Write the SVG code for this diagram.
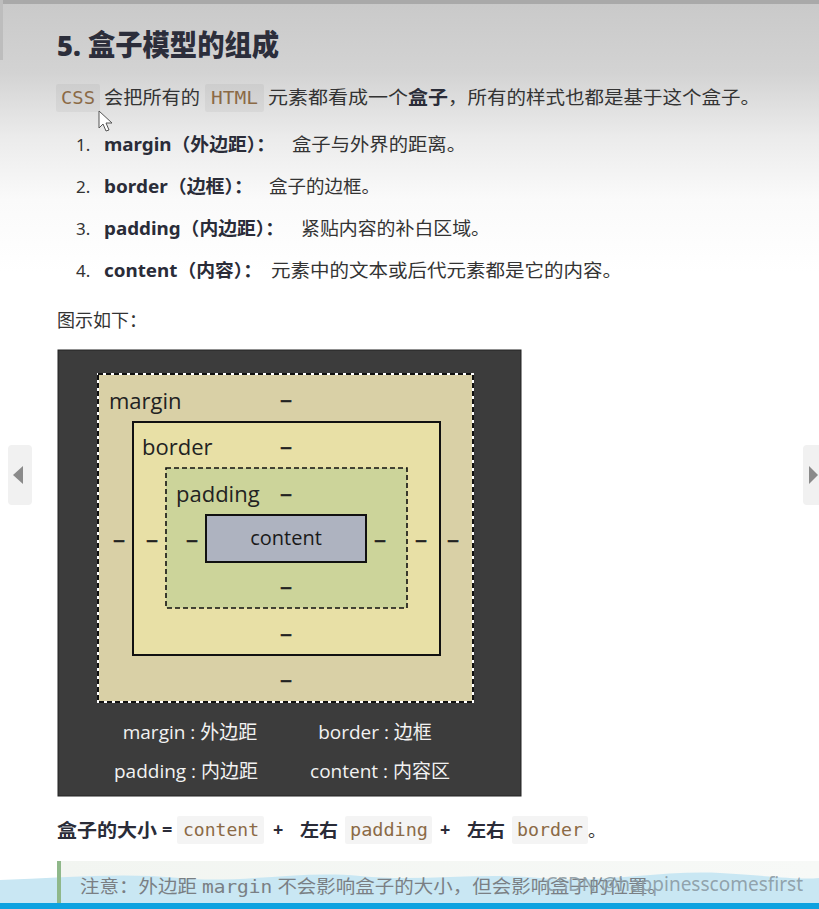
<svg xmlns="http://www.w3.org/2000/svg" width="819" height="909" viewBox="0 0 819 909">
<defs>
<linearGradient id="bg" x1="0" y1="0" x2="0" y2="1" gradientUnits="objectBoundingBox">
<stop offset="0" stop-color="#c9c9c9"/>
<stop offset="0.08" stop-color="#d3d3d3"/>
<stop offset="0.15" stop-color="#ebebeb"/>
<stop offset="0.22" stop-color="#fafafa"/>
<stop offset="0.3" stop-color="#ffffff"/>
<stop offset="1" stop-color="#ffffff"/>
</linearGradient>
<linearGradient id="note" x1="0" y1="0" x2="1" y2="0">
<stop offset="0" stop-color="#f2f5f1"/>
<stop offset="1" stop-color="#f7f9f7"/>
</linearGradient>
<style>
.t{font-family:"Noto Sans","Noto Sans CJK SC",sans-serif;fill:#333;font-size:18px}
.b{font-weight:bold;fill:#2a2c38}
.h{font-size:29px;font-weight:900;fill:#2c2e3b}
.n{font-size:17px}
.code{font-family:"DejaVu Sans Mono","Liberation Mono",monospace;font-size:17px;fill:#8b6a46}
.cbg{fill:#000;fill-opacity:0.045}
.lbl{font-family:"Open Sans","Noto Sans",sans-serif;font-size:22px;fill:#222}
.dash{font-family:"Open Sans","Noto Sans",sans-serif;font-size:24px;fill:#222;stroke:#222;stroke-width:0.5;text-anchor:middle}
.leg{font-family:"Open Sans","Noto Sans","Noto Sans CJK SC",sans-serif;font-size:19px;fill:#f2f2f2;text-anchor:middle}
.ctl{font-family:"Open Sans","Noto Sans",sans-serif;font-size:20px;fill:#1a1a1a;text-anchor:middle}
</style>
</defs>
<rect width="819" height="909" fill="url(#bg)"/>
<rect width="819" height="4" fill="#a9a9a9"/>
<rect width="3" height="60" fill="#bdbdbd"/>

<g id="title">
<text class="t b h" x="57" y="56" textLength="222" lengthAdjust="spacingAndGlyphs">5. 盒子模型的组成</text>
</g>

<g id="intro">
<rect class="cbg" x="56" y="84" width="44" height="28" rx="2"/>
<text class="code" x="61" y="104" textLength="34" lengthAdjust="spacingAndGlyphs">CSS</text>
<text class="t" x="104" y="104" textLength="96" lengthAdjust="spacingAndGlyphs">会把所有的</text>
<rect class="cbg" x="205" y="84" width="59" height="28" rx="2"/>
<text class="code" x="211" y="104" textLength="47" lengthAdjust="spacingAndGlyphs">HTML</text>
<text class="t" x="268" y="104" textLength="140" lengthAdjust="spacingAndGlyphs">元素都看成一个</text>
<text class="t b" x="408" y="104" textLength="40" lengthAdjust="spacingAndGlyphs">盒子</text>
<text class="t" x="448" y="104" textLength="312" lengthAdjust="spacingAndGlyphs">，所有的样式也都是基于这个盒子。</text>
</g>

<g id="cursor">
<polygon points="99,111 99,128 103,124 106,131 109,130 106,123 112,123" fill="#fff" stroke="#555" stroke-width="1"/>
</g>

<g id="list">
<text class="t n" x="76" y="151">1.</text>
<text class="t b" x="104" y="151" textLength="171" lengthAdjust="spacingAndGlyphs">margin（外边距）：</text>
<text class="t" x="292" y="151" textLength="174" lengthAdjust="spacingAndGlyphs">盒子与外界的距离。</text>
<text class="t n" x="76" y="193">2.</text>
<text class="t b" x="104" y="193" textLength="149" lengthAdjust="spacingAndGlyphs">border（边框）：</text>
<text class="t" x="269" y="193" textLength="111" lengthAdjust="spacingAndGlyphs">盒子的边框。</text>
<text class="t n" x="76" y="235">3.</text>
<text class="t b" x="104" y="235" textLength="180" lengthAdjust="spacingAndGlyphs">padding（内边距）：</text>
<text class="t" x="301" y="235" textLength="189" lengthAdjust="spacingAndGlyphs">紧贴内容的补白区域。</text>
<text class="t n" x="76" y="277">4.</text>
<text class="t b" x="104" y="277" textLength="158" lengthAdjust="spacingAndGlyphs">content（内容）：</text>
<text class="t" x="271" y="277" textLength="351" lengthAdjust="spacingAndGlyphs">元素中的文本或后代元素都是它的内容。</text>
</g>

<g id="caption">
<text class="t" x="57" y="327" textLength="90" lengthAdjust="spacingAndGlyphs">图示如下：</text>
</g>

<g id="diagram">
<rect x="58" y="350" width="463" height="446" fill="#3c3c3c" stroke="#222" stroke-width="1"/>
<g id="margin-box">
<rect x="98" y="374" width="375" height="328" fill="#d9d0a6"/>
<rect x="98" y="374" width="375" height="328" fill="none" stroke="#fff" stroke-width="2"/>
<rect x="98" y="374" width="375" height="328" fill="none" stroke="#111" stroke-width="2" stroke-dasharray="5 3"/>
<text class="lbl" x="109" y="409">margin</text>
</g>
<g id="border-box">
<rect x="133" y="422" width="307" height="233" fill="#e8e0a6" stroke="#111" stroke-width="2"/>
<text class="lbl" x="142" y="455">border</text>
</g>
<g id="padding-box">
<rect x="166" y="468" width="241" height="140" fill="#ccd49a" stroke="#111" stroke-width="1.6" stroke-dasharray="5 3"/>
<text class="lbl" x="176" y="502">padding</text>
</g>
<g id="content-box">
<rect x="206" y="515" width="160" height="47" fill="#aeb3c0" stroke="#111" stroke-width="2"/>
<text class="ctl" x="286" y="545">content</text>
</g>
<g id="values">
<text class="dash" x="286" y="408">–</text>
<text class="dash" x="286" y="455">–</text>
<text class="dash" x="286" y="502">–</text>
<text class="dash" x="119" y="548">–</text>
<text class="dash" x="152" y="548">–</text>
<text class="dash" x="192" y="548">–</text>
<text class="dash" x="380" y="548">–</text>
<text class="dash" x="421" y="548">–</text>
<text class="dash" x="453" y="548">–</text>
<text class="dash" x="286" y="595">–</text>
<text class="dash" x="286" y="642">–</text>
<text class="dash" x="286" y="688">–</text>
</g>
<g id="legend">
<text class="leg" x="190" y="739">margin : 外边距</text>
<text class="leg" x="375" y="739">border : 边框</text>
<text class="leg" x="186" y="778">padding : 内边距</text>
<text class="leg" x="380" y="778">content : 内容区</text>
</g>
</g>

<g id="formula">
<text class="t b" x="57" y="837" textLength="100" lengthAdjust="spacingAndGlyphs">盒子的大小</text>
<text class="t b" x="162" y="836">=</text>
<rect class="cbg" x="177" y="816" width="87" height="28" rx="2"/>
<text class="code" x="183" y="836" textLength="76" lengthAdjust="spacingAndGlyphs">content</text>
<text class="t b" x="273" y="836">+</text>
<text class="t b" x="300" y="837" textLength="38" lengthAdjust="spacingAndGlyphs">左右</text>
<rect class="cbg" x="345" y="816" width="87" height="28" rx="2"/>
<text class="code" x="350" y="836" textLength="78" lengthAdjust="spacingAndGlyphs">padding</text>
<text class="t b" x="440" y="836">+</text>
<text class="t b" x="467" y="837" textLength="38" lengthAdjust="spacingAndGlyphs">左右</text>
<rect class="cbg" x="512" y="816" width="76" height="28" rx="2"/>
<text class="code" x="517" y="836" textLength="66" lengthAdjust="spacingAndGlyphs">border</text>
<text class="t" x="588" y="837">。</text>
</g>

<g id="note">
<rect x="57" y="861" width="762" height="48" fill="url(#note)"/>
<path d="M0,880 C60,878 120,872 180,878 C240,884 300,870 360,876 C420,882 480,872 540,878 C600,884 660,870 720,873 C770,876 800,880 819,878 L819,909 L0,909 Z" fill="#c9e7f3"/>
<rect x="0" y="903" width="819" height="6" fill="#0ea2e0"/>
<rect x="57" y="861" width="4" height="42" fill="#8fb88a"/>
<text class="t" x="80" y="893" style="fill:#7a7f84" textLength="587" lengthAdjust="spacingAndGlyphs">注意：外边距 <tspan font-family="DejaVu Sans Mono, monospace">margin</tspan> 不会影响盒子的大小，但会影响盒子的位置。</text>
<text x="803" y="891" text-anchor="end" font-family="Noto Sans, sans-serif" font-size="19" fill="#8a9aa3" fill-opacity="0.9">CSDN @happinesscomesfirst</text>
</g>

<g id="nav">
<rect x="8" y="445" width="24" height="60" rx="4" fill="#f1f1f1"/>
<polygon points="13,475 23,466 23,484" fill="#8a8a8a"/>
<rect x="803" y="445" width="24" height="60" rx="4" fill="#f1f1f1"/>
<polygon points="818,475 809,466 809,484" fill="#8a8a8a"/>
</g>
</svg>
